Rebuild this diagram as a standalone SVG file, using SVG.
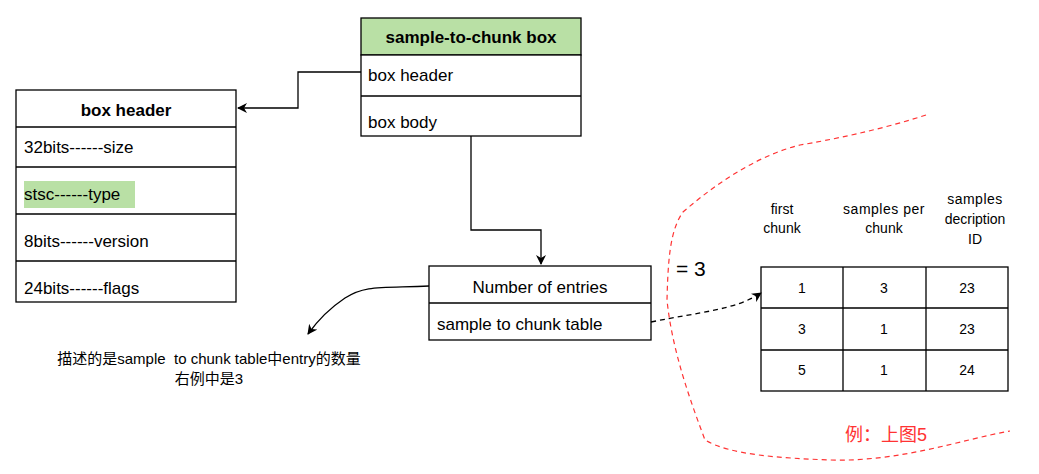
<svg xmlns="http://www.w3.org/2000/svg" width="1039" height="474" viewBox="0 0 1039 474">
<style>
.b{fill:#fff;stroke:#000;stroke-width:1.3}
.t{font-family:"Liberation Sans",Arial,sans-serif;font-size:17px;fill:#000}
.s{font-family:"Liberation Sans",Arial,sans-serif;font-size:14px;fill:#000;text-anchor:middle}
.c{fill:none;stroke:#000;stroke-width:1.3}
.z{font-family:"Liberation Sans","Noto Sans CJK SC",sans-serif}
</style>
<defs><marker id="a" markerWidth="10" markerHeight="10" refX="9" refY="5" orient="auto" markerUnits="userSpaceOnUse"><path d="M0,0L10,5L0,10L3,5Z" fill="#000"/></marker></defs>
<rect width="1039" height="474" fill="#fff"/>
<g id="stsc">
<rect x="361" y="18" width="220" height="37" fill="#b9e0a5" stroke="#000" stroke-width="1.3"/>
<rect class="b" x="361" y="55" width="220" height="81"/>
<line class="c" x1="361" y1="96" x2="581" y2="96"/>
<text class="t" x="471" y="43" text-anchor="middle" font-weight="bold">sample-to-chunk box</text>
<text class="t" x="368" y="81">box header</text>
<text class="t" x="368" y="128">box body</text>
</g>
<g id="boxheader">
<rect class="b" x="16" y="90" width="220" height="212"/>
<line class="c" x1="16" y1="127" x2="236" y2="127"/>
<line class="c" x1="16" y1="167" x2="236" y2="167"/>
<line class="c" x1="16" y1="214" x2="236" y2="214"/>
<line class="c" x1="16" y1="261" x2="236" y2="261"/>
<text class="t" x="126" y="116" text-anchor="middle" font-weight="bold">box header</text>
<text class="t" x="24" y="153">32bits------size</text>
<rect x="24" y="181" width="111" height="27" fill="#b9e0a5"/>
<text class="t" x="24" y="200">stsc------type</text>
<text class="t" x="24" y="247">8bits------version</text>
<text class="t" x="24" y="294">24bits------flags</text>
</g>
<g id="entries">
<rect class="b" x="429" y="266" width="222" height="74"/>
<line class="c" x1="429" y1="303" x2="651" y2="303"/>
<text class="t" x="540" y="293" text-anchor="middle">Number of entries</text>
<text class="t" x="437" y="330">sample to chunk table</text>
</g>
<g id="table">
<rect class="b" x="761" y="267" width="247" height="124"/>
<path class="c" d="M843,267V391M926,267V391M761,308H1008M761,350H1008"/>
<text class="s" x="802" y="293">1</text><text class="s" x="884" y="293">3</text><text class="s" x="967" y="293">23</text>
<text class="s" x="802" y="334">3</text><text class="s" x="884" y="334">1</text><text class="s" x="967" y="334">23</text>
<text class="s" x="802" y="375">5</text><text class="s" x="884" y="375">1</text><text class="s" x="967" y="375">24</text>
<text class="s" x="782" y="214">first</text><text class="s" x="782" y="233">chunk</text>
<text class="s" x="884" y="214" letter-spacing="0.5">samples per</text><text class="s" x="884" y="233">chunk</text>
<text class="s" x="975" y="204" letter-spacing="0.5">samples</text><text class="s" x="975" y="224">decription</text><text class="s" x="975" y="244">ID</text>
</g>
<g id="labels">
<text x="676" y="276" font-family="Liberation Sans,Arial,sans-serif" font-size="21">= 3</text>
<text class="z" x="209" y="364" text-anchor="middle" font-size="15" xml:space="preserve">描述的是sample  to chunk table中entry的数量</text>
<text class="z" x="209" y="384" text-anchor="middle" font-size="15">右例中是3</text>
<text class="z" x="886" y="441" text-anchor="middle" fill="#ff3333" font-size="18">例：上图5</text>
</g>
<g id="connectors">
<path class="c" d="M361,72H298V108H238" marker-end="url(#a)"/>
<path class="c" d="M471,136V230H541V264" marker-end="url(#a)"/>
<path class="c" d="M429,286C380,288 365,285 345,298C330,308 318,320 308,334" marker-end="url(#a)"/>
<path class="c" d="M651,322C700,312 735,310 761,293" stroke-dasharray="5,4" marker-end="url(#a)"/>
<path d="M926,115C880,130 830,140 800,145C760,155 720,180 683,212C670,230 668,260 667,300C672,350 690,400 705,440C730,455 780,458 830,460C900,462 960,440 1010,431" fill="none" stroke="#ff3333" stroke-width="1.2" stroke-dasharray="5,4"/>
</g>
</svg>
